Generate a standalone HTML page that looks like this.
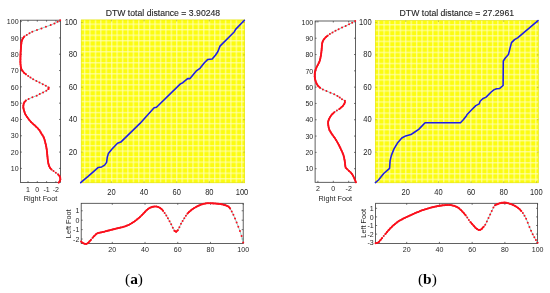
<!DOCTYPE html>
<html><head><meta charset="utf-8"><style>
html,body{margin:0;padding:0;background:#fff;}
svg{display:block;filter:blur(0.45px);}
text{font-family:'Liberation Sans', Arial, sans-serif;fill:#262626;}
</style></head><body>
<svg width="550" height="293" viewBox="0 0 550 293">
<rect width="550" height="293" fill="#fff"/>
<rect x="20.4" y="20.2" width="40.1" height="162.4" fill="#fff" stroke="#3a3a3a" stroke-width="0.8"/>
<line x1="20.4" y1="168.39" x2="21.9" y2="168.39" stroke="#3a3a3a" stroke-width="0.7"/>
<line x1="60.5" y1="168.39" x2="59.0" y2="168.39" stroke="#3a3a3a" stroke-width="0.7"/>
<text transform="translate(18.6 171.09) scale(0.93 1)" font-size="7.6" text-anchor="end">10</text>
<line x1="20.4" y1="152.08" x2="21.9" y2="152.08" stroke="#3a3a3a" stroke-width="0.7"/>
<line x1="60.5" y1="152.08" x2="59.0" y2="152.08" stroke="#3a3a3a" stroke-width="0.7"/>
<text transform="translate(18.6 154.78) scale(0.93 1)" font-size="7.6" text-anchor="end">20</text>
<line x1="20.4" y1="135.77" x2="21.9" y2="135.77" stroke="#3a3a3a" stroke-width="0.7"/>
<line x1="60.5" y1="135.77" x2="59.0" y2="135.77" stroke="#3a3a3a" stroke-width="0.7"/>
<text transform="translate(18.6 138.47) scale(0.93 1)" font-size="7.6" text-anchor="end">30</text>
<line x1="20.4" y1="119.46" x2="21.9" y2="119.46" stroke="#3a3a3a" stroke-width="0.7"/>
<line x1="60.5" y1="119.46" x2="59.0" y2="119.46" stroke="#3a3a3a" stroke-width="0.7"/>
<text transform="translate(18.6 122.16) scale(0.93 1)" font-size="7.6" text-anchor="end">40</text>
<line x1="20.4" y1="103.15" x2="21.9" y2="103.15" stroke="#3a3a3a" stroke-width="0.7"/>
<line x1="60.5" y1="103.15" x2="59.0" y2="103.15" stroke="#3a3a3a" stroke-width="0.7"/>
<text transform="translate(18.6 105.85) scale(0.93 1)" font-size="7.6" text-anchor="end">50</text>
<line x1="20.4" y1="86.84" x2="21.9" y2="86.84" stroke="#3a3a3a" stroke-width="0.7"/>
<line x1="60.5" y1="86.84" x2="59.0" y2="86.84" stroke="#3a3a3a" stroke-width="0.7"/>
<text transform="translate(18.6 89.54) scale(0.93 1)" font-size="7.6" text-anchor="end">60</text>
<line x1="20.4" y1="70.53" x2="21.9" y2="70.53" stroke="#3a3a3a" stroke-width="0.7"/>
<line x1="60.5" y1="70.53" x2="59.0" y2="70.53" stroke="#3a3a3a" stroke-width="0.7"/>
<text transform="translate(18.6 73.23) scale(0.93 1)" font-size="7.6" text-anchor="end">70</text>
<line x1="20.4" y1="54.22" x2="21.9" y2="54.22" stroke="#3a3a3a" stroke-width="0.7"/>
<line x1="60.5" y1="54.22" x2="59.0" y2="54.22" stroke="#3a3a3a" stroke-width="0.7"/>
<text transform="translate(18.6 56.92) scale(0.93 1)" font-size="7.6" text-anchor="end">80</text>
<line x1="20.4" y1="37.91" x2="21.9" y2="37.91" stroke="#3a3a3a" stroke-width="0.7"/>
<line x1="60.5" y1="37.91" x2="59.0" y2="37.91" stroke="#3a3a3a" stroke-width="0.7"/>
<text transform="translate(18.6 40.61) scale(0.93 1)" font-size="7.6" text-anchor="end">90</text>
<line x1="20.4" y1="21.6" x2="21.9" y2="21.6" stroke="#3a3a3a" stroke-width="0.7"/>
<line x1="60.5" y1="21.6" x2="59.0" y2="21.6" stroke="#3a3a3a" stroke-width="0.7"/>
<text transform="translate(18.6 24.3) scale(0.93 1)" font-size="7.6" text-anchor="end">100</text>
<line x1="28" y1="20.2" x2="28" y2="21.7" stroke="#3a3a3a" stroke-width="0.7"/>
<line x1="28" y1="182.6" x2="28" y2="181.1" stroke="#3a3a3a" stroke-width="0.7"/>
<text transform="translate(28 191.7) scale(0.93 1)" font-size="7.6" text-anchor="middle">1</text>
<line x1="37.3" y1="20.2" x2="37.3" y2="21.7" stroke="#3a3a3a" stroke-width="0.7"/>
<line x1="37.3" y1="182.6" x2="37.3" y2="181.1" stroke="#3a3a3a" stroke-width="0.7"/>
<text transform="translate(37.3 191.7) scale(0.93 1)" font-size="7.6" text-anchor="middle">0</text>
<line x1="46.6" y1="20.2" x2="46.6" y2="21.7" stroke="#3a3a3a" stroke-width="0.7"/>
<line x1="46.6" y1="182.6" x2="46.6" y2="181.1" stroke="#3a3a3a" stroke-width="0.7"/>
<text transform="translate(46.6 191.7) scale(0.93 1)" font-size="7.6" text-anchor="middle">-1</text>
<line x1="55.9" y1="20.2" x2="55.9" y2="21.7" stroke="#3a3a3a" stroke-width="0.7"/>
<line x1="55.9" y1="182.6" x2="55.9" y2="181.1" stroke="#3a3a3a" stroke-width="0.7"/>
<text transform="translate(55.9 191.7) scale(0.93 1)" font-size="7.6" text-anchor="middle">-2</text>
<text transform="translate(40.45 201) scale(0.9 1)" font-size="8.1" text-anchor="middle">Right Foot</text>
<g fill="#fa1020"><polyline points="58.72,182.6 59.79,180.96 60.35,179.32 60.18,177.68 59.5,176.04 58.17,174.4 55.84,172.76 53.51,171.12 51.48,169.48 50.02,167.84 49.19,166.2 48.66,164.56 48.27,162.92 47.99,161.27 47.77,159.63 47.59,157.99 47.43,156.35 47.27,154.71 47.1,153.07 46.93,151.43 46.74,149.79 46.5,148.15 46.2,146.51 45.84,144.87 45.46,143.23 45.06,141.59 44.62,139.95 44.1,138.31 43.41,136.67 42.39,135.03 41.31,133.39 40.39,131.75 39.38,130.11 37.94,128.47 36.24,126.83 34.51,125.19 32.68,123.55 30.93,121.91 29.48,120.26 28.28,118.62 27.12,116.98 25.91,115.34 25.04,113.7 24.51,112.06 24.01,110.42 23.53,108.78 23.33,107.14 23.37,105.5 23.67,103.86 24.35,102.22 25.81,100.58 28.6,98.94 32.39,97.3 36.7,95.66 39.76,94.02 43.04,92.38 46.34,90.74 48.45,89.1 48.61,87.46 45.81,85.82 42.78,84.18 39.5,82.54 36.39,80.89 33.14,79.25 30.47,77.61 28.17,75.97 25.91,74.33 24,72.69 22.54,71.05 21.57,69.41 21,67.77 20.72,66.13 20.54,64.49 20.42,62.85 20.4,61.21 20.42,59.57 20.44,57.93 20.48,56.29 20.52,54.65 20.59,53.01 20.69,51.37 20.81,49.73 20.94,48.09 21.07,46.45 21.2,44.81 21.37,43.17 21.6,41.53 22.11,39.88 23.05,38.24 24.3,36.6 26.73,34.96 29.49,33.32 32.29,31.68 36.97,30.04 41.45,28.4 45.95,26.76 50.69,25.12 54.42,23.48 57.66,21.84 60.15,20.2" fill="none" stroke="#78c4b8" stroke-width="0.8"/><polyline points="58.72,182.6 59.79,180.96 60.35,179.32 60.18,177.68 59.5,176.04 58.17,174.4" fill="none" stroke="#ff0808" stroke-width="1.65" stroke-linejoin="round" stroke-linecap="round"/><polyline points="51.48,169.48 50.02,167.84 49.19,166.2 48.66,164.56 48.27,162.92 47.99,161.27 47.77,159.63 47.59,157.99 47.43,156.35 47.27,154.71 47.1,153.07 46.93,151.43 46.74,149.79 46.5,148.15 46.2,146.51 45.84,144.87 45.46,143.23 45.06,141.59 44.62,139.95 44.1,138.31 43.41,136.67 42.39,135.03 41.31,133.39 40.39,131.75 39.38,130.11 37.94,128.47 36.24,126.83 34.51,125.19 32.68,123.55 30.93,121.91 29.48,120.26 28.28,118.62 27.12,116.98 25.91,115.34 25.04,113.7 24.51,112.06 24.01,110.42 23.53,108.78 23.33,107.14 23.37,105.5 23.67,103.86 24.35,102.22 25.81,100.58" fill="none" stroke="#ff0808" stroke-width="1.65" stroke-linejoin="round" stroke-linecap="round"/><polyline points="48.45,89.1 48.61,87.46" fill="none" stroke="#ff0808" stroke-width="1.65" stroke-linejoin="round" stroke-linecap="round"/><polyline points="25.91,74.33 24,72.69 22.54,71.05 21.57,69.41 21,67.77 20.72,66.13 20.54,64.49 20.42,62.85 20.4,61.21 20.42,59.57 20.44,57.93 20.48,56.29 20.52,54.65 20.59,53.01 20.69,51.37 20.81,49.73 20.94,48.09 21.07,46.45 21.2,44.81 21.37,43.17 21.6,41.53 22.11,39.88 23.05,38.24 24.3,36.6" fill="none" stroke="#ff0808" stroke-width="1.65" stroke-linejoin="round" stroke-linecap="round"/><circle cx="58.72" cy="182.6" r="1.0"/><circle cx="59.79" cy="180.96" r="1.0"/><circle cx="60.35" cy="179.32" r="1.0"/><circle cx="60.18" cy="177.68" r="1.0"/><circle cx="59.5" cy="176.04" r="1.0"/><circle cx="58.17" cy="174.4" r="1.0"/><circle cx="55.84" cy="172.76" r="1.0"/><circle cx="53.51" cy="171.12" r="1.0"/><circle cx="51.48" cy="169.48" r="1.0"/><circle cx="50.02" cy="167.84" r="1.0"/><circle cx="49.19" cy="166.2" r="1.0"/><circle cx="48.66" cy="164.56" r="1.0"/><circle cx="48.27" cy="162.92" r="1.0"/><circle cx="47.99" cy="161.27" r="1.0"/><circle cx="47.77" cy="159.63" r="1.0"/><circle cx="47.59" cy="157.99" r="1.0"/><circle cx="47.43" cy="156.35" r="1.0"/><circle cx="47.27" cy="154.71" r="1.0"/><circle cx="47.1" cy="153.07" r="1.0"/><circle cx="46.93" cy="151.43" r="1.0"/><circle cx="46.74" cy="149.79" r="1.0"/><circle cx="46.5" cy="148.15" r="1.0"/><circle cx="46.2" cy="146.51" r="1.0"/><circle cx="45.84" cy="144.87" r="1.0"/><circle cx="45.46" cy="143.23" r="1.0"/><circle cx="45.06" cy="141.59" r="1.0"/><circle cx="44.62" cy="139.95" r="1.0"/><circle cx="44.1" cy="138.31" r="1.0"/><circle cx="43.41" cy="136.67" r="1.0"/><circle cx="42.39" cy="135.03" r="1.0"/><circle cx="41.31" cy="133.39" r="1.0"/><circle cx="40.39" cy="131.75" r="1.0"/><circle cx="39.38" cy="130.11" r="1.0"/><circle cx="37.94" cy="128.47" r="1.0"/><circle cx="36.24" cy="126.83" r="1.0"/><circle cx="34.51" cy="125.19" r="1.0"/><circle cx="32.68" cy="123.55" r="1.0"/><circle cx="30.93" cy="121.91" r="1.0"/><circle cx="29.48" cy="120.26" r="1.0"/><circle cx="28.28" cy="118.62" r="1.0"/><circle cx="27.12" cy="116.98" r="1.0"/><circle cx="25.91" cy="115.34" r="1.0"/><circle cx="25.04" cy="113.7" r="1.0"/><circle cx="24.51" cy="112.06" r="1.0"/><circle cx="24.01" cy="110.42" r="1.0"/><circle cx="23.53" cy="108.78" r="1.0"/><circle cx="23.33" cy="107.14" r="1.0"/><circle cx="23.37" cy="105.5" r="1.0"/><circle cx="23.67" cy="103.86" r="1.0"/><circle cx="24.35" cy="102.22" r="1.0"/><circle cx="25.81" cy="100.58" r="1.0"/><circle cx="28.6" cy="98.94" r="1.0"/><circle cx="32.39" cy="97.3" r="1.0"/><circle cx="36.7" cy="95.66" r="1.0"/><circle cx="39.76" cy="94.02" r="1.0"/><circle cx="43.04" cy="92.38" r="1.0"/><circle cx="46.34" cy="90.74" r="1.0"/><circle cx="48.45" cy="89.1" r="1.0"/><circle cx="48.61" cy="87.46" r="1.0"/><circle cx="45.81" cy="85.82" r="1.0"/><circle cx="42.78" cy="84.18" r="1.0"/><circle cx="39.5" cy="82.54" r="1.0"/><circle cx="36.39" cy="80.89" r="1.0"/><circle cx="33.14" cy="79.25" r="1.0"/><circle cx="30.47" cy="77.61" r="1.0"/><circle cx="28.17" cy="75.97" r="1.0"/><circle cx="25.91" cy="74.33" r="1.0"/><circle cx="24" cy="72.69" r="1.0"/><circle cx="22.54" cy="71.05" r="1.0"/><circle cx="21.57" cy="69.41" r="1.0"/><circle cx="21" cy="67.77" r="1.0"/><circle cx="20.72" cy="66.13" r="1.0"/><circle cx="20.54" cy="64.49" r="1.0"/><circle cx="20.42" cy="62.85" r="1.0"/><circle cx="20.4" cy="61.21" r="1.0"/><circle cx="20.42" cy="59.57" r="1.0"/><circle cx="20.44" cy="57.93" r="1.0"/><circle cx="20.48" cy="56.29" r="1.0"/><circle cx="20.52" cy="54.65" r="1.0"/><circle cx="20.59" cy="53.01" r="1.0"/><circle cx="20.69" cy="51.37" r="1.0"/><circle cx="20.81" cy="49.73" r="1.0"/><circle cx="20.94" cy="48.09" r="1.0"/><circle cx="21.07" cy="46.45" r="1.0"/><circle cx="21.2" cy="44.81" r="1.0"/><circle cx="21.37" cy="43.17" r="1.0"/><circle cx="21.6" cy="41.53" r="1.0"/><circle cx="22.11" cy="39.88" r="1.0"/><circle cx="23.05" cy="38.24" r="1.0"/><circle cx="24.3" cy="36.6" r="1.0"/><circle cx="26.73" cy="34.96" r="1.0"/><circle cx="29.49" cy="33.32" r="1.0"/><circle cx="32.29" cy="31.68" r="1.0"/><circle cx="36.97" cy="30.04" r="1.0"/><circle cx="41.45" cy="28.4" r="1.0"/><circle cx="45.95" cy="26.76" r="1.0"/><circle cx="50.69" cy="25.12" r="1.0"/><circle cx="54.42" cy="23.48" r="1.0"/><circle cx="57.66" cy="21.84" r="1.0"/><circle cx="60.15" cy="20.2" r="1.0"/></g>
<defs><pattern id="ga" x="83.9" y="23.5" width="5.42" height="5.52" patternUnits="userSpaceOnUse"><rect width="5.42" height="5.52" fill="#fcfc10"/><rect width="5.42" height="1.35" fill="#ffffc0" opacity="0.68"/><rect width="1.35" height="5.52" fill="#ffffc0" opacity="0.68"/></pattern></defs>
<rect x="81.2" y="19.9" width="163.5" height="162.9" fill="url(#ga)" stroke="#e0e000" stroke-width="0.6"/>
<text transform="translate(77.2 154.6) scale(0.92 1)" font-size="8.2" text-anchor="end">20</text>
<text transform="translate(111.4 194.8) scale(0.92 1)" font-size="8.2" text-anchor="middle">20</text>
<text transform="translate(77.2 122.2) scale(0.92 1)" font-size="8.2" text-anchor="end">40</text>
<text transform="translate(144.05 194.8) scale(0.92 1)" font-size="8.2" text-anchor="middle">40</text>
<text transform="translate(77.2 89.8) scale(0.92 1)" font-size="8.2" text-anchor="end">60</text>
<text transform="translate(176.7 194.8) scale(0.92 1)" font-size="8.2" text-anchor="middle">60</text>
<text transform="translate(77.2 57.4) scale(0.92 1)" font-size="8.2" text-anchor="end">80</text>
<text transform="translate(209.35 194.8) scale(0.92 1)" font-size="8.2" text-anchor="middle">80</text>
<text transform="translate(77.2 25) scale(0.92 1)" font-size="8.2" text-anchor="end">100</text>
<text transform="translate(242 194.8) scale(0.92 1)" font-size="8.2" text-anchor="middle">100</text>
<line x1="111.4" y1="182.8" x2="111.4" y2="181.3" stroke="#a0a020" stroke-width="0.6"/>
<line x1="111.4" y1="19.9" x2="111.4" y2="21.4" stroke="#a0a020" stroke-width="0.6"/>
<line x1="81.2" y1="152.1" x2="82.7" y2="152.1" stroke="#a0a020" stroke-width="0.6"/>
<line x1="244.7" y1="152.1" x2="243.2" y2="152.1" stroke="#a0a020" stroke-width="0.6"/>
<line x1="144.05" y1="182.8" x2="144.05" y2="181.3" stroke="#a0a020" stroke-width="0.6"/>
<line x1="144.05" y1="19.9" x2="144.05" y2="21.4" stroke="#a0a020" stroke-width="0.6"/>
<line x1="81.2" y1="119.7" x2="82.7" y2="119.7" stroke="#a0a020" stroke-width="0.6"/>
<line x1="244.7" y1="119.7" x2="243.2" y2="119.7" stroke="#a0a020" stroke-width="0.6"/>
<line x1="176.7" y1="182.8" x2="176.7" y2="181.3" stroke="#a0a020" stroke-width="0.6"/>
<line x1="176.7" y1="19.9" x2="176.7" y2="21.4" stroke="#a0a020" stroke-width="0.6"/>
<line x1="81.2" y1="87.3" x2="82.7" y2="87.3" stroke="#a0a020" stroke-width="0.6"/>
<line x1="244.7" y1="87.3" x2="243.2" y2="87.3" stroke="#a0a020" stroke-width="0.6"/>
<line x1="209.35" y1="182.8" x2="209.35" y2="181.3" stroke="#a0a020" stroke-width="0.6"/>
<line x1="209.35" y1="19.9" x2="209.35" y2="21.4" stroke="#a0a020" stroke-width="0.6"/>
<line x1="81.2" y1="54.9" x2="82.7" y2="54.9" stroke="#a0a020" stroke-width="0.6"/>
<line x1="244.7" y1="54.9" x2="243.2" y2="54.9" stroke="#a0a020" stroke-width="0.6"/>
<line x1="242" y1="182.8" x2="242" y2="181.3" stroke="#a0a020" stroke-width="0.6"/>
<line x1="242" y1="19.9" x2="242" y2="21.4" stroke="#a0a020" stroke-width="0.6"/>
<line x1="81.2" y1="22.5" x2="82.7" y2="22.5" stroke="#a0a020" stroke-width="0.6"/>
<line x1="244.7" y1="22.5" x2="243.2" y2="22.5" stroke="#a0a020" stroke-width="0.6"/>
<polyline points="80.7,182.7 84.8,179.1 88.1,176.4 93.8,171.4 98.3,167.4 101.7,166.9 104.6,165.1 106.6,162.4 107.3,157.2 108.4,153.4 111.8,149.3 117.5,143.2 120.8,142.1 140,123.4 154.1,107.8 156.5,107.3 180.4,83.9 182.8,82.7 187.6,78.6 190,78.6 196.7,70.6 200,68.3 204.4,62.8 207.8,59.4 212.2,59 215.6,55 217.8,51.7 220,46.1 234.4,31.7 235.6,29.4 244.4,20.3" fill="none" stroke="#1e1ee8" stroke-width="1.55" stroke-linejoin="round" stroke-linecap="round"/>
<text x="162.95" y="15.6" font-size="9.7" text-anchor="middle" textLength="114.5" lengthAdjust="spacingAndGlyphs" style="stroke:#222;stroke-width:0.12">DTW total distance = 3.90248</text>
<rect x="81.2" y="203.3" width="162" height="40.1" fill="#fff" stroke="#3a3a3a" stroke-width="0.8"/>
<line x1="112.29" y1="203.3" x2="112.29" y2="204.8" stroke="#3a3a3a" stroke-width="0.7"/>
<line x1="112.29" y1="243.4" x2="112.29" y2="241.9" stroke="#3a3a3a" stroke-width="0.7"/>
<text transform="translate(112.29 252.3) scale(0.93 1)" font-size="7.6" text-anchor="middle">20</text>
<line x1="145.02" y1="203.3" x2="145.02" y2="204.8" stroke="#3a3a3a" stroke-width="0.7"/>
<line x1="145.02" y1="243.4" x2="145.02" y2="241.9" stroke="#3a3a3a" stroke-width="0.7"/>
<text transform="translate(145.02 252.3) scale(0.93 1)" font-size="7.6" text-anchor="middle">40</text>
<line x1="177.75" y1="203.3" x2="177.75" y2="204.8" stroke="#3a3a3a" stroke-width="0.7"/>
<line x1="177.75" y1="243.4" x2="177.75" y2="241.9" stroke="#3a3a3a" stroke-width="0.7"/>
<text transform="translate(177.75 252.3) scale(0.93 1)" font-size="7.6" text-anchor="middle">60</text>
<line x1="210.47" y1="203.3" x2="210.47" y2="204.8" stroke="#3a3a3a" stroke-width="0.7"/>
<line x1="210.47" y1="243.4" x2="210.47" y2="241.9" stroke="#3a3a3a" stroke-width="0.7"/>
<text transform="translate(210.47 252.3) scale(0.93 1)" font-size="7.6" text-anchor="middle">80</text>
<line x1="243.2" y1="203.3" x2="243.2" y2="204.8" stroke="#3a3a3a" stroke-width="0.7"/>
<line x1="243.2" y1="243.4" x2="243.2" y2="241.9" stroke="#3a3a3a" stroke-width="0.7"/>
<text transform="translate(243.2 252.3) scale(0.93 1)" font-size="7.6" text-anchor="middle">100</text>
<line x1="81.2" y1="210.77" x2="82.7" y2="210.77" stroke="#3a3a3a" stroke-width="0.7"/>
<line x1="243.2" y1="210.77" x2="241.7" y2="210.77" stroke="#3a3a3a" stroke-width="0.7"/>
<text transform="translate(79.4 213.47) scale(0.93 1)" font-size="7.6" text-anchor="end">1</text>
<line x1="81.2" y1="220.2" x2="82.7" y2="220.2" stroke="#3a3a3a" stroke-width="0.7"/>
<line x1="243.2" y1="220.2" x2="241.7" y2="220.2" stroke="#3a3a3a" stroke-width="0.7"/>
<text transform="translate(79.4 222.9) scale(0.93 1)" font-size="7.6" text-anchor="end">0</text>
<line x1="81.2" y1="229.63" x2="82.7" y2="229.63" stroke="#3a3a3a" stroke-width="0.7"/>
<line x1="243.2" y1="229.63" x2="241.7" y2="229.63" stroke="#3a3a3a" stroke-width="0.7"/>
<text transform="translate(79.4 232.33) scale(0.93 1)" font-size="7.6" text-anchor="end">-1</text>
<line x1="81.2" y1="239.06" x2="82.7" y2="239.06" stroke="#3a3a3a" stroke-width="0.7"/>
<line x1="243.2" y1="239.06" x2="241.7" y2="239.06" stroke="#3a3a3a" stroke-width="0.7"/>
<text transform="translate(79.4 241.76) scale(0.93 1)" font-size="7.6" text-anchor="end">-2</text>
<text transform="translate(71.2 223.8) rotate(-90) scale(0.9 1)" font-size="8.1" text-anchor="middle">Left Foot</text>
<g fill="#fa1020"><polyline points="81.2,241.6 82.84,242.93 84.47,243.76 86.11,243.91 87.75,243.16 89.38,241.62 91.02,239.74 92.65,237.69 94.29,235.92 95.93,234.36 97.56,233.18 99.2,232.69 100.84,232.42 102.47,232.09 104.11,231.69 105.75,231.27 107.38,230.84 109.02,230.42 110.65,229.99 112.29,229.58 113.93,229.17 115.56,228.78 117.2,228.37 118.84,227.98 120.47,227.6 122.11,227.2 123.75,226.75 125.38,226.22 127.02,225.61 128.65,224.9 130.29,224.07 131.93,223.12 133.56,222.05 135.2,220.87 136.84,219.62 138.47,218.28 140.11,216.84 141.75,215.26 143.38,213.62 145.02,211.86 146.65,210.13 148.29,208.82 149.93,207.81 151.56,207.13 153.2,206.66 154.84,206.53 156.47,206.54 158.11,207 159.75,207.66 161.38,208.91 163.02,210.76 164.65,212.89 166.29,215.48 167.93,218.37 169.56,221.27 171.2,224.29 172.84,227.8 174.47,230.7 176.11,231.79 177.75,230.36 179.38,227.27 181.02,223.78 182.65,220.95 184.29,218.25 185.93,215.65 187.56,213.47 189.2,211.84 190.84,210.43 192.47,209.2 194.11,208.11 195.75,207.14 197.38,206.25 199.02,205.42 200.65,204.73 202.29,204.22 203.93,203.8 205.56,203.44 207.2,203.23 208.84,203.21 210.47,203.24 212.11,203.31 213.75,203.39 215.38,203.49 217.02,203.63 218.65,203.82 220.29,204.04 221.93,204.32 223.56,204.69 225.2,205.14 226.84,205.72 228.47,206.61 230.11,208.41 231.75,211.51 233.38,214.83 235.02,218.54 236.65,222.54 238.29,226.74 239.93,230.89 241.56,235.91 243.2,242.5" fill="none" stroke="#78c4b8" stroke-width="0.8"/><polyline points="81.2,241.6 82.84,242.93 84.47,243.76 86.11,243.91 87.75,243.16 89.38,241.62 91.02,239.74" fill="none" stroke="#ff0808" stroke-width="1.65" stroke-linejoin="round" stroke-linecap="round"/><polyline points="92.65,237.69 94.29,235.92 95.93,234.36 97.56,233.18 99.2,232.69 100.84,232.42 102.47,232.09 104.11,231.69 105.75,231.27 107.38,230.84 109.02,230.42 110.65,229.99 112.29,229.58 113.93,229.17 115.56,228.78 117.2,228.37 118.84,227.98 120.47,227.6 122.11,227.2 123.75,226.75 125.38,226.22 127.02,225.61 128.65,224.9 130.29,224.07 131.93,223.12 133.56,222.05 135.2,220.87 136.84,219.62 138.47,218.28 140.11,216.84 141.75,215.26 143.38,213.62 145.02,211.86 146.65,210.13 148.29,208.82 149.93,207.81 151.56,207.13 153.2,206.66 154.84,206.53 156.47,206.54 158.11,207 159.75,207.66 161.38,208.91 163.02,210.76" fill="none" stroke="#ff0808" stroke-width="1.65" stroke-linejoin="round" stroke-linecap="round"/><polyline points="174.47,230.7 176.11,231.79 177.75,230.36" fill="none" stroke="#ff0808" stroke-width="1.65" stroke-linejoin="round" stroke-linecap="round"/><polyline points="187.56,213.47 189.2,211.84 190.84,210.43 192.47,209.2 194.11,208.11 195.75,207.14 197.38,206.25 199.02,205.42 200.65,204.73 202.29,204.22 203.93,203.8 205.56,203.44 207.2,203.23 208.84,203.21 210.47,203.24 212.11,203.31 213.75,203.39 215.38,203.49 217.02,203.63 218.65,203.82 220.29,204.04 221.93,204.32 223.56,204.69 225.2,205.14 226.84,205.72 228.47,206.61 230.11,208.41" fill="none" stroke="#ff0808" stroke-width="1.65" stroke-linejoin="round" stroke-linecap="round"/><circle cx="81.2" cy="241.6" r="1.0"/><circle cx="82.84" cy="242.93" r="1.0"/><circle cx="84.47" cy="243.76" r="1.0"/><circle cx="86.11" cy="243.91" r="1.0"/><circle cx="87.75" cy="243.16" r="1.0"/><circle cx="89.38" cy="241.62" r="1.0"/><circle cx="91.02" cy="239.74" r="1.0"/><circle cx="92.65" cy="237.69" r="1.0"/><circle cx="94.29" cy="235.92" r="1.0"/><circle cx="95.93" cy="234.36" r="1.0"/><circle cx="97.56" cy="233.18" r="1.0"/><circle cx="99.2" cy="232.69" r="1.0"/><circle cx="100.84" cy="232.42" r="1.0"/><circle cx="102.47" cy="232.09" r="1.0"/><circle cx="104.11" cy="231.69" r="1.0"/><circle cx="105.75" cy="231.27" r="1.0"/><circle cx="107.38" cy="230.84" r="1.0"/><circle cx="109.02" cy="230.42" r="1.0"/><circle cx="110.65" cy="229.99" r="1.0"/><circle cx="112.29" cy="229.58" r="1.0"/><circle cx="113.93" cy="229.17" r="1.0"/><circle cx="115.56" cy="228.78" r="1.0"/><circle cx="117.2" cy="228.37" r="1.0"/><circle cx="118.84" cy="227.98" r="1.0"/><circle cx="120.47" cy="227.6" r="1.0"/><circle cx="122.11" cy="227.2" r="1.0"/><circle cx="123.75" cy="226.75" r="1.0"/><circle cx="125.38" cy="226.22" r="1.0"/><circle cx="127.02" cy="225.61" r="1.0"/><circle cx="128.65" cy="224.9" r="1.0"/><circle cx="130.29" cy="224.07" r="1.0"/><circle cx="131.93" cy="223.12" r="1.0"/><circle cx="133.56" cy="222.05" r="1.0"/><circle cx="135.2" cy="220.87" r="1.0"/><circle cx="136.84" cy="219.62" r="1.0"/><circle cx="138.47" cy="218.28" r="1.0"/><circle cx="140.11" cy="216.84" r="1.0"/><circle cx="141.75" cy="215.26" r="1.0"/><circle cx="143.38" cy="213.62" r="1.0"/><circle cx="145.02" cy="211.86" r="1.0"/><circle cx="146.65" cy="210.13" r="1.0"/><circle cx="148.29" cy="208.82" r="1.0"/><circle cx="149.93" cy="207.81" r="1.0"/><circle cx="151.56" cy="207.13" r="1.0"/><circle cx="153.2" cy="206.66" r="1.0"/><circle cx="154.84" cy="206.53" r="1.0"/><circle cx="156.47" cy="206.54" r="1.0"/><circle cx="158.11" cy="207" r="1.0"/><circle cx="159.75" cy="207.66" r="1.0"/><circle cx="161.38" cy="208.91" r="1.0"/><circle cx="163.02" cy="210.76" r="1.0"/><circle cx="164.65" cy="212.89" r="1.0"/><circle cx="166.29" cy="215.48" r="1.0"/><circle cx="167.93" cy="218.37" r="1.0"/><circle cx="169.56" cy="221.27" r="1.0"/><circle cx="171.2" cy="224.29" r="1.0"/><circle cx="172.84" cy="227.8" r="1.0"/><circle cx="174.47" cy="230.7" r="1.0"/><circle cx="176.11" cy="231.79" r="1.0"/><circle cx="177.75" cy="230.36" r="1.0"/><circle cx="179.38" cy="227.27" r="1.0"/><circle cx="181.02" cy="223.78" r="1.0"/><circle cx="182.65" cy="220.95" r="1.0"/><circle cx="184.29" cy="218.25" r="1.0"/><circle cx="185.93" cy="215.65" r="1.0"/><circle cx="187.56" cy="213.47" r="1.0"/><circle cx="189.2" cy="211.84" r="1.0"/><circle cx="190.84" cy="210.43" r="1.0"/><circle cx="192.47" cy="209.2" r="1.0"/><circle cx="194.11" cy="208.11" r="1.0"/><circle cx="195.75" cy="207.14" r="1.0"/><circle cx="197.38" cy="206.25" r="1.0"/><circle cx="199.02" cy="205.42" r="1.0"/><circle cx="200.65" cy="204.73" r="1.0"/><circle cx="202.29" cy="204.22" r="1.0"/><circle cx="203.93" cy="203.8" r="1.0"/><circle cx="205.56" cy="203.44" r="1.0"/><circle cx="207.2" cy="203.23" r="1.0"/><circle cx="208.84" cy="203.21" r="1.0"/><circle cx="210.47" cy="203.24" r="1.0"/><circle cx="212.11" cy="203.31" r="1.0"/><circle cx="213.75" cy="203.39" r="1.0"/><circle cx="215.38" cy="203.49" r="1.0"/><circle cx="217.02" cy="203.63" r="1.0"/><circle cx="218.65" cy="203.82" r="1.0"/><circle cx="220.29" cy="204.04" r="1.0"/><circle cx="221.93" cy="204.32" r="1.0"/><circle cx="223.56" cy="204.69" r="1.0"/><circle cx="225.2" cy="205.14" r="1.0"/><circle cx="226.84" cy="205.72" r="1.0"/><circle cx="228.47" cy="206.61" r="1.0"/><circle cx="230.11" cy="208.41" r="1.0"/><circle cx="231.75" cy="211.51" r="1.0"/><circle cx="233.38" cy="214.83" r="1.0"/><circle cx="235.02" cy="218.54" r="1.0"/><circle cx="236.65" cy="222.54" r="1.0"/><circle cx="238.29" cy="226.74" r="1.0"/><circle cx="239.93" cy="230.89" r="1.0"/><circle cx="241.56" cy="235.91" r="1.0"/><circle cx="243.2" cy="242.5" r="1.0"/></g>
<text x="134" y="284.4" style="font-family:'Liberation Serif',serif;font-size:15.4px;fill:#000" text-anchor="middle">(<tspan font-weight="bold">a</tspan>)</text>
<rect x="315.1" y="21.0" width="40.4" height="161.3" fill="#fff" stroke="#3a3a3a" stroke-width="0.8"/>
<line x1="315.1" y1="168.69" x2="316.6" y2="168.69" stroke="#3a3a3a" stroke-width="0.7"/>
<line x1="355.5" y1="168.69" x2="354.0" y2="168.69" stroke="#3a3a3a" stroke-width="0.7"/>
<text transform="translate(313.3 171.39) scale(0.93 1)" font-size="7.6" text-anchor="end">10</text>
<line x1="315.1" y1="152.38" x2="316.6" y2="152.38" stroke="#3a3a3a" stroke-width="0.7"/>
<line x1="355.5" y1="152.38" x2="354.0" y2="152.38" stroke="#3a3a3a" stroke-width="0.7"/>
<text transform="translate(313.3 155.08) scale(0.93 1)" font-size="7.6" text-anchor="end">20</text>
<line x1="315.1" y1="136.07" x2="316.6" y2="136.07" stroke="#3a3a3a" stroke-width="0.7"/>
<line x1="355.5" y1="136.07" x2="354.0" y2="136.07" stroke="#3a3a3a" stroke-width="0.7"/>
<text transform="translate(313.3 138.77) scale(0.93 1)" font-size="7.6" text-anchor="end">30</text>
<line x1="315.1" y1="119.76" x2="316.6" y2="119.76" stroke="#3a3a3a" stroke-width="0.7"/>
<line x1="355.5" y1="119.76" x2="354.0" y2="119.76" stroke="#3a3a3a" stroke-width="0.7"/>
<text transform="translate(313.3 122.46) scale(0.93 1)" font-size="7.6" text-anchor="end">40</text>
<line x1="315.1" y1="103.45" x2="316.6" y2="103.45" stroke="#3a3a3a" stroke-width="0.7"/>
<line x1="355.5" y1="103.45" x2="354.0" y2="103.45" stroke="#3a3a3a" stroke-width="0.7"/>
<text transform="translate(313.3 106.15) scale(0.93 1)" font-size="7.6" text-anchor="end">50</text>
<line x1="315.1" y1="87.14" x2="316.6" y2="87.14" stroke="#3a3a3a" stroke-width="0.7"/>
<line x1="355.5" y1="87.14" x2="354.0" y2="87.14" stroke="#3a3a3a" stroke-width="0.7"/>
<text transform="translate(313.3 89.84) scale(0.93 1)" font-size="7.6" text-anchor="end">60</text>
<line x1="315.1" y1="70.83" x2="316.6" y2="70.83" stroke="#3a3a3a" stroke-width="0.7"/>
<line x1="355.5" y1="70.83" x2="354.0" y2="70.83" stroke="#3a3a3a" stroke-width="0.7"/>
<text transform="translate(313.3 73.53) scale(0.93 1)" font-size="7.6" text-anchor="end">70</text>
<line x1="315.1" y1="54.52" x2="316.6" y2="54.52" stroke="#3a3a3a" stroke-width="0.7"/>
<line x1="355.5" y1="54.52" x2="354.0" y2="54.52" stroke="#3a3a3a" stroke-width="0.7"/>
<text transform="translate(313.3 57.22) scale(0.93 1)" font-size="7.6" text-anchor="end">80</text>
<line x1="315.1" y1="38.21" x2="316.6" y2="38.21" stroke="#3a3a3a" stroke-width="0.7"/>
<line x1="355.5" y1="38.21" x2="354.0" y2="38.21" stroke="#3a3a3a" stroke-width="0.7"/>
<text transform="translate(313.3 40.91) scale(0.93 1)" font-size="7.6" text-anchor="end">90</text>
<line x1="315.1" y1="21.9" x2="316.6" y2="21.9" stroke="#3a3a3a" stroke-width="0.7"/>
<line x1="355.5" y1="21.9" x2="354.0" y2="21.9" stroke="#3a3a3a" stroke-width="0.7"/>
<text transform="translate(313.3 24.6) scale(0.93 1)" font-size="7.6" text-anchor="end">100</text>
<line x1="317.9" y1="21.0" x2="317.9" y2="22.5" stroke="#3a3a3a" stroke-width="0.7"/>
<line x1="317.9" y1="182.3" x2="317.9" y2="180.8" stroke="#3a3a3a" stroke-width="0.7"/>
<text transform="translate(317.9 191.2) scale(0.93 1)" font-size="7.6" text-anchor="middle">2</text>
<line x1="333.3" y1="21.0" x2="333.3" y2="22.5" stroke="#3a3a3a" stroke-width="0.7"/>
<line x1="333.3" y1="182.3" x2="333.3" y2="180.8" stroke="#3a3a3a" stroke-width="0.7"/>
<text transform="translate(333.3 191.2) scale(0.93 1)" font-size="7.6" text-anchor="middle">0</text>
<line x1="348.7" y1="21.0" x2="348.7" y2="22.5" stroke="#3a3a3a" stroke-width="0.7"/>
<line x1="348.7" y1="182.3" x2="348.7" y2="180.8" stroke="#3a3a3a" stroke-width="0.7"/>
<text transform="translate(348.7 191.2) scale(0.93 1)" font-size="7.6" text-anchor="middle">-2</text>
<text transform="translate(335.3 200.8) scale(0.9 1)" font-size="8.1" text-anchor="middle">Right Foot</text>
<g fill="#fa1020"><polyline points="355.87,182.3 355.29,180.67 354.62,179.04 353.88,177.41 353.08,175.78 352.11,174.15 350.71,172.52 349,170.89 347.28,169.27 345.68,167.64 345.3,166.01 345.15,164.38 344.96,162.75 344.72,161.12 344.45,159.49 344.14,157.86 343.76,156.23 343.25,154.6 342.61,152.97 341.89,151.34 341.13,149.71 340.37,148.08 339.58,146.46 338.75,144.83 337.88,143.2 336.96,141.57 336,139.94 334.96,138.31 333.78,136.68 332.59,135.05 331.51,133.42 330.47,131.79 329.51,130.16 328.94,128.53 328.59,126.9 328.31,125.27 328.14,123.65 328.13,122.02 328.53,120.39 329.19,118.76 330.01,117.13 331.16,115.5 332.56,113.87 334.35,112.24 336.85,110.61 339.41,108.98 341.37,107.35 343.02,105.72 344.24,104.09 344.81,102.46 344.83,100.84 342,99.21 339.74,97.58 337.41,95.95 334.19,94.32 330.43,92.69 326.45,91.06 322.87,89.43 320.13,87.8 318.33,86.17 317.16,84.54 316.32,82.91 315.67,81.28 315.22,79.65 314.85,78.03 314.7,76.4 314.73,74.77 314.79,73.14 315.05,71.51 315.54,69.88 316.16,68.25 316.95,66.62 317.75,64.99 318.63,63.36 319.41,61.73 319.92,60.1 320.32,58.47 320.65,56.84 320.93,55.22 321.18,53.59 321.39,51.96 321.56,50.33 321.69,48.7 321.8,47.07 321.96,45.44 322.15,43.81 322.46,42.18 323.18,40.55 324.25,38.92 325.71,37.29 327.59,35.66 329.87,34.03 332.5,32.41 335.48,30.78 338.65,29.15 342.04,27.52 345.67,25.89 349.04,24.26 352.21,22.63 355.2,21" fill="none" stroke="#78c4b8" stroke-width="0.8"/><polyline points="355.87,182.3 355.29,180.67 354.62,179.04 353.88,177.41 353.08,175.78 352.11,174.15 350.71,172.52 349,170.89 347.28,169.27 345.68,167.64 345.3,166.01 345.15,164.38 344.96,162.75 344.72,161.12 344.45,159.49 344.14,157.86 343.76,156.23 343.25,154.6 342.61,152.97 341.89,151.34 341.13,149.71 340.37,148.08 339.58,146.46 338.75,144.83 337.88,143.2 336.96,141.57 336,139.94 334.96,138.31 333.78,136.68 332.59,135.05 331.51,133.42 330.47,131.79 329.51,130.16 328.94,128.53 328.59,126.9 328.31,125.27 328.14,123.65 328.13,122.02 328.53,120.39 329.19,118.76 330.01,117.13 331.16,115.5 332.56,113.87 334.35,112.24" fill="none" stroke="#ff0808" stroke-width="1.65" stroke-linejoin="round" stroke-linecap="round"/><polyline points="339.41,108.98 341.37,107.35 343.02,105.72 344.24,104.09 344.81,102.46 344.83,100.84" fill="none" stroke="#ff0808" stroke-width="1.65" stroke-linejoin="round" stroke-linecap="round"/><polyline points="320.13,87.8 318.33,86.17 317.16,84.54 316.32,82.91 315.67,81.28 315.22,79.65 314.85,78.03 314.7,76.4 314.73,74.77 314.79,73.14 315.05,71.51 315.54,69.88 316.16,68.25 316.95,66.62 317.75,64.99 318.63,63.36 319.41,61.73 319.92,60.1 320.32,58.47 320.65,56.84 320.93,55.22 321.18,53.59 321.39,51.96 321.56,50.33 321.69,48.7 321.8,47.07 321.96,45.44 322.15,43.81 322.46,42.18 323.18,40.55 324.25,38.92 325.71,37.29 327.59,35.66" fill="none" stroke="#ff0808" stroke-width="1.65" stroke-linejoin="round" stroke-linecap="round"/><circle cx="355.87" cy="182.3" r="1.0"/><circle cx="355.29" cy="180.67" r="1.0"/><circle cx="354.62" cy="179.04" r="1.0"/><circle cx="353.88" cy="177.41" r="1.0"/><circle cx="353.08" cy="175.78" r="1.0"/><circle cx="352.11" cy="174.15" r="1.0"/><circle cx="350.71" cy="172.52" r="1.0"/><circle cx="349" cy="170.89" r="1.0"/><circle cx="347.28" cy="169.27" r="1.0"/><circle cx="345.68" cy="167.64" r="1.0"/><circle cx="345.3" cy="166.01" r="1.0"/><circle cx="345.15" cy="164.38" r="1.0"/><circle cx="344.96" cy="162.75" r="1.0"/><circle cx="344.72" cy="161.12" r="1.0"/><circle cx="344.45" cy="159.49" r="1.0"/><circle cx="344.14" cy="157.86" r="1.0"/><circle cx="343.76" cy="156.23" r="1.0"/><circle cx="343.25" cy="154.6" r="1.0"/><circle cx="342.61" cy="152.97" r="1.0"/><circle cx="341.89" cy="151.34" r="1.0"/><circle cx="341.13" cy="149.71" r="1.0"/><circle cx="340.37" cy="148.08" r="1.0"/><circle cx="339.58" cy="146.46" r="1.0"/><circle cx="338.75" cy="144.83" r="1.0"/><circle cx="337.88" cy="143.2" r="1.0"/><circle cx="336.96" cy="141.57" r="1.0"/><circle cx="336" cy="139.94" r="1.0"/><circle cx="334.96" cy="138.31" r="1.0"/><circle cx="333.78" cy="136.68" r="1.0"/><circle cx="332.59" cy="135.05" r="1.0"/><circle cx="331.51" cy="133.42" r="1.0"/><circle cx="330.47" cy="131.79" r="1.0"/><circle cx="329.51" cy="130.16" r="1.0"/><circle cx="328.94" cy="128.53" r="1.0"/><circle cx="328.59" cy="126.9" r="1.0"/><circle cx="328.31" cy="125.27" r="1.0"/><circle cx="328.14" cy="123.65" r="1.0"/><circle cx="328.13" cy="122.02" r="1.0"/><circle cx="328.53" cy="120.39" r="1.0"/><circle cx="329.19" cy="118.76" r="1.0"/><circle cx="330.01" cy="117.13" r="1.0"/><circle cx="331.16" cy="115.5" r="1.0"/><circle cx="332.56" cy="113.87" r="1.0"/><circle cx="334.35" cy="112.24" r="1.0"/><circle cx="336.85" cy="110.61" r="1.0"/><circle cx="339.41" cy="108.98" r="1.0"/><circle cx="341.37" cy="107.35" r="1.0"/><circle cx="343.02" cy="105.72" r="1.0"/><circle cx="344.24" cy="104.09" r="1.0"/><circle cx="344.81" cy="102.46" r="1.0"/><circle cx="344.83" cy="100.84" r="1.0"/><circle cx="342" cy="99.21" r="1.0"/><circle cx="339.74" cy="97.58" r="1.0"/><circle cx="337.41" cy="95.95" r="1.0"/><circle cx="334.19" cy="94.32" r="1.0"/><circle cx="330.43" cy="92.69" r="1.0"/><circle cx="326.45" cy="91.06" r="1.0"/><circle cx="322.87" cy="89.43" r="1.0"/><circle cx="320.13" cy="87.8" r="1.0"/><circle cx="318.33" cy="86.17" r="1.0"/><circle cx="317.16" cy="84.54" r="1.0"/><circle cx="316.32" cy="82.91" r="1.0"/><circle cx="315.67" cy="81.28" r="1.0"/><circle cx="315.22" cy="79.65" r="1.0"/><circle cx="314.85" cy="78.03" r="1.0"/><circle cx="314.7" cy="76.4" r="1.0"/><circle cx="314.73" cy="74.77" r="1.0"/><circle cx="314.79" cy="73.14" r="1.0"/><circle cx="315.05" cy="71.51" r="1.0"/><circle cx="315.54" cy="69.88" r="1.0"/><circle cx="316.16" cy="68.25" r="1.0"/><circle cx="316.95" cy="66.62" r="1.0"/><circle cx="317.75" cy="64.99" r="1.0"/><circle cx="318.63" cy="63.36" r="1.0"/><circle cx="319.41" cy="61.73" r="1.0"/><circle cx="319.92" cy="60.1" r="1.0"/><circle cx="320.32" cy="58.47" r="1.0"/><circle cx="320.65" cy="56.84" r="1.0"/><circle cx="320.93" cy="55.22" r="1.0"/><circle cx="321.18" cy="53.59" r="1.0"/><circle cx="321.39" cy="51.96" r="1.0"/><circle cx="321.56" cy="50.33" r="1.0"/><circle cx="321.69" cy="48.7" r="1.0"/><circle cx="321.8" cy="47.07" r="1.0"/><circle cx="321.96" cy="45.44" r="1.0"/><circle cx="322.15" cy="43.81" r="1.0"/><circle cx="322.46" cy="42.18" r="1.0"/><circle cx="323.18" cy="40.55" r="1.0"/><circle cx="324.25" cy="38.92" r="1.0"/><circle cx="325.71" cy="37.29" r="1.0"/><circle cx="327.59" cy="35.66" r="1.0"/><circle cx="329.87" cy="34.03" r="1.0"/><circle cx="332.5" cy="32.41" r="1.0"/><circle cx="335.48" cy="30.78" r="1.0"/><circle cx="338.65" cy="29.15" r="1.0"/><circle cx="342.04" cy="27.52" r="1.0"/><circle cx="345.67" cy="25.89" r="1.0"/><circle cx="349.04" cy="24.26" r="1.0"/><circle cx="352.21" cy="22.63" r="1.0"/><circle cx="355.2" cy="21" r="1.0"/></g>
<defs><pattern id="gb" x="378" y="24.1" width="5.42" height="5.52" patternUnits="userSpaceOnUse"><rect width="5.42" height="5.52" fill="#fcfc10"/><rect width="5.42" height="1.35" fill="#ffffc0" opacity="0.68"/><rect width="1.35" height="5.52" fill="#ffffc0" opacity="0.68"/></pattern></defs>
<rect x="375.3" y="20.5" width="163.1" height="162.3" fill="url(#gb)" stroke="#e0e000" stroke-width="0.6"/>
<text transform="translate(371.6 154.6) scale(0.92 1)" font-size="8.2" text-anchor="end">20</text>
<text transform="translate(405.8 194.8) scale(0.92 1)" font-size="8.2" text-anchor="middle">20</text>
<text transform="translate(371.6 122.2) scale(0.92 1)" font-size="8.2" text-anchor="end">40</text>
<text transform="translate(438.45 194.8) scale(0.92 1)" font-size="8.2" text-anchor="middle">40</text>
<text transform="translate(371.6 89.8) scale(0.92 1)" font-size="8.2" text-anchor="end">60</text>
<text transform="translate(471.1 194.8) scale(0.92 1)" font-size="8.2" text-anchor="middle">60</text>
<text transform="translate(371.6 57.4) scale(0.92 1)" font-size="8.2" text-anchor="end">80</text>
<text transform="translate(503.75 194.8) scale(0.92 1)" font-size="8.2" text-anchor="middle">80</text>
<text transform="translate(371.6 25) scale(0.92 1)" font-size="8.2" text-anchor="end">100</text>
<text transform="translate(536.4 194.8) scale(0.92 1)" font-size="8.2" text-anchor="middle">100</text>
<line x1="405.8" y1="182.8" x2="405.8" y2="181.3" stroke="#a0a020" stroke-width="0.6"/>
<line x1="405.8" y1="20.5" x2="405.8" y2="22" stroke="#a0a020" stroke-width="0.6"/>
<line x1="375.3" y1="152.1" x2="376.8" y2="152.1" stroke="#a0a020" stroke-width="0.6"/>
<line x1="538.4" y1="152.1" x2="536.9" y2="152.1" stroke="#a0a020" stroke-width="0.6"/>
<line x1="438.45" y1="182.8" x2="438.45" y2="181.3" stroke="#a0a020" stroke-width="0.6"/>
<line x1="438.45" y1="20.5" x2="438.45" y2="22" stroke="#a0a020" stroke-width="0.6"/>
<line x1="375.3" y1="119.7" x2="376.8" y2="119.7" stroke="#a0a020" stroke-width="0.6"/>
<line x1="538.4" y1="119.7" x2="536.9" y2="119.7" stroke="#a0a020" stroke-width="0.6"/>
<line x1="471.1" y1="182.8" x2="471.1" y2="181.3" stroke="#a0a020" stroke-width="0.6"/>
<line x1="471.1" y1="20.5" x2="471.1" y2="22" stroke="#a0a020" stroke-width="0.6"/>
<line x1="375.3" y1="87.3" x2="376.8" y2="87.3" stroke="#a0a020" stroke-width="0.6"/>
<line x1="538.4" y1="87.3" x2="536.9" y2="87.3" stroke="#a0a020" stroke-width="0.6"/>
<line x1="503.75" y1="182.8" x2="503.75" y2="181.3" stroke="#a0a020" stroke-width="0.6"/>
<line x1="503.75" y1="20.5" x2="503.75" y2="22" stroke="#a0a020" stroke-width="0.6"/>
<line x1="375.3" y1="54.9" x2="376.8" y2="54.9" stroke="#a0a020" stroke-width="0.6"/>
<line x1="538.4" y1="54.9" x2="536.9" y2="54.9" stroke="#a0a020" stroke-width="0.6"/>
<line x1="536.4" y1="182.8" x2="536.4" y2="181.3" stroke="#a0a020" stroke-width="0.6"/>
<line x1="536.4" y1="20.5" x2="536.4" y2="22" stroke="#a0a020" stroke-width="0.6"/>
<line x1="375.3" y1="22.5" x2="376.8" y2="22.5" stroke="#a0a020" stroke-width="0.6"/>
<line x1="538.4" y1="22.5" x2="536.9" y2="22.5" stroke="#a0a020" stroke-width="0.6"/>
<polyline points="375.4,182.6 378.5,180 383.7,173.5 389.6,168.3 390.1,160.6 391.4,155.4 394,148.9 397.9,142.4 401.8,138 405.7,135.9 410.9,134.6 414.8,132 418.7,129.4 425.1,122.7 460.5,122.7 463.5,119.5 466.5,115.8 466.9,114.8 470.7,110.7 475.8,105.6 479.2,103.9 480.1,101.3 482.7,98.8 486.1,97.1 491.2,92 493.8,89.9 496.5,88.7 499.7,88.4 503.1,85.5 503.3,61 505.3,58 508.4,54.6 509.9,48.8 511.5,42.6 514.5,39.6 517.6,37.8 538,20.6" fill="none" stroke="#1e1ee8" stroke-width="1.55" stroke-linejoin="round" stroke-linecap="round"/>
<text x="456.85" y="15.6" font-size="9.7" text-anchor="middle" textLength="114.5" lengthAdjust="spacingAndGlyphs" style="stroke:#222;stroke-width:0.12">DTW total distance = 27.2961</text>
<rect x="375.6" y="203.3" width="162" height="40.1" fill="#fff" stroke="#3a3a3a" stroke-width="0.8"/>
<line x1="406.69" y1="203.3" x2="406.69" y2="204.8" stroke="#3a3a3a" stroke-width="0.7"/>
<line x1="406.69" y1="243.4" x2="406.69" y2="241.9" stroke="#3a3a3a" stroke-width="0.7"/>
<text transform="translate(406.69 252.3) scale(0.93 1)" font-size="7.6" text-anchor="middle">20</text>
<line x1="439.42" y1="203.3" x2="439.42" y2="204.8" stroke="#3a3a3a" stroke-width="0.7"/>
<line x1="439.42" y1="243.4" x2="439.42" y2="241.9" stroke="#3a3a3a" stroke-width="0.7"/>
<text transform="translate(439.42 252.3) scale(0.93 1)" font-size="7.6" text-anchor="middle">40</text>
<line x1="472.15" y1="203.3" x2="472.15" y2="204.8" stroke="#3a3a3a" stroke-width="0.7"/>
<line x1="472.15" y1="243.4" x2="472.15" y2="241.9" stroke="#3a3a3a" stroke-width="0.7"/>
<text transform="translate(472.15 252.3) scale(0.93 1)" font-size="7.6" text-anchor="middle">60</text>
<line x1="504.87" y1="203.3" x2="504.87" y2="204.8" stroke="#3a3a3a" stroke-width="0.7"/>
<line x1="504.87" y1="243.4" x2="504.87" y2="241.9" stroke="#3a3a3a" stroke-width="0.7"/>
<text transform="translate(504.87 252.3) scale(0.93 1)" font-size="7.6" text-anchor="middle">80</text>
<line x1="537.6" y1="203.3" x2="537.6" y2="204.8" stroke="#3a3a3a" stroke-width="0.7"/>
<line x1="537.6" y1="243.4" x2="537.6" y2="241.9" stroke="#3a3a3a" stroke-width="0.7"/>
<text transform="translate(537.6 252.3) scale(0.93 1)" font-size="7.6" text-anchor="middle">100</text>
<line x1="375.6" y1="208.3" x2="377.1" y2="208.3" stroke="#3a3a3a" stroke-width="0.7"/>
<line x1="537.6" y1="208.3" x2="536.1" y2="208.3" stroke="#3a3a3a" stroke-width="0.7"/>
<text transform="translate(373.8 211) scale(0.93 1)" font-size="7.6" text-anchor="end">1</text>
<line x1="375.6" y1="216.9" x2="377.1" y2="216.9" stroke="#3a3a3a" stroke-width="0.7"/>
<line x1="537.6" y1="216.9" x2="536.1" y2="216.9" stroke="#3a3a3a" stroke-width="0.7"/>
<text transform="translate(373.8 219.6) scale(0.93 1)" font-size="7.6" text-anchor="end">0</text>
<line x1="375.6" y1="225.5" x2="377.1" y2="225.5" stroke="#3a3a3a" stroke-width="0.7"/>
<line x1="537.6" y1="225.5" x2="536.1" y2="225.5" stroke="#3a3a3a" stroke-width="0.7"/>
<text transform="translate(373.8 228.2) scale(0.93 1)" font-size="7.6" text-anchor="end">-1</text>
<line x1="375.6" y1="234.1" x2="377.1" y2="234.1" stroke="#3a3a3a" stroke-width="0.7"/>
<line x1="537.6" y1="234.1" x2="536.1" y2="234.1" stroke="#3a3a3a" stroke-width="0.7"/>
<text transform="translate(373.8 236.8) scale(0.93 1)" font-size="7.6" text-anchor="end">-2</text>
<line x1="375.6" y1="242.7" x2="377.1" y2="242.7" stroke="#3a3a3a" stroke-width="0.7"/>
<line x1="537.6" y1="242.7" x2="536.1" y2="242.7" stroke="#3a3a3a" stroke-width="0.7"/>
<text transform="translate(373.8 245.4) scale(0.93 1)" font-size="7.6" text-anchor="end">-3</text>
<text transform="translate(366.3 223.3) rotate(-90) scale(0.9 1)" font-size="8.1" text-anchor="middle">Left Foot</text>
<g fill="#fa1020"><polyline points="375.6,243.2 377.24,242.89 378.87,241.92 380.51,239.97 382.15,238.05 383.78,236.02 385.42,233.99 387.05,232.01 388.69,230.1 390.33,228.34 391.96,226.72 393.6,225.21 395.24,223.77 396.87,222.45 398.51,221.33 400.15,220.36 401.78,219.45 403.42,218.58 405.05,217.77 406.69,216.99 408.33,216.24 409.96,215.52 411.6,214.8 413.24,214.08 414.87,213.35 416.51,212.61 418.15,211.89 419.78,211.21 421.42,210.58 423.05,210.01 424.69,209.46 426.33,208.95 427.96,208.46 429.6,208.01 431.24,207.56 432.87,207.13 434.51,206.74 436.15,206.4 437.78,206.11 439.42,205.83 441.05,205.58 442.69,205.37 444.33,205.22 445.96,205.12 447.6,205.04 449.24,205 450.87,205.12 452.51,205.44 454.15,205.84 455.78,206.43 457.42,207.26 459.05,208.33 460.69,209.77 462.33,211.47 463.96,213.31 465.6,215.29 467.24,217.62 468.87,220.01 470.51,222.15 472.15,223.97 473.78,225.87 475.42,227.65 477.05,229.07 478.69,229.89 480.33,229.82 481.96,228.63 483.6,226.82 485.24,224.67 486.87,221.5 488.51,217.88 490.15,214.52 491.78,210.96 493.42,207.5 495.05,205.23 496.69,204.39 498.33,203.73 499.96,203.21 501.6,202.84 503.24,202.64 504.87,202.62 506.51,202.81 508.15,203.19 509.78,203.7 511.42,204.3 513.05,204.94 514.69,205.69 516.33,206.66 517.96,207.84 519.6,209.22 521.24,210.91 522.87,213.09 524.51,215.66 526.15,218.67 527.78,222.66 529.42,226.99 531.05,230.82 532.69,234.13 534.33,237.24 535.96,240.11 537.6,242.7" fill="none" stroke="#78c4b8" stroke-width="0.8"/><polyline points="375.6,243.2 377.24,242.89 378.87,241.92 380.51,239.97 382.15,238.05" fill="none" stroke="#ff0808" stroke-width="1.65" stroke-linejoin="round" stroke-linecap="round"/><polyline points="385.42,233.99 387.05,232.01 388.69,230.1 390.33,228.34 391.96,226.72 393.6,225.21 395.24,223.77 396.87,222.45 398.51,221.33 400.15,220.36 401.78,219.45 403.42,218.58 405.05,217.77 406.69,216.99 408.33,216.24 409.96,215.52 411.6,214.8 413.24,214.08 414.87,213.35 416.51,212.61 418.15,211.89 419.78,211.21 421.42,210.58 423.05,210.01 424.69,209.46 426.33,208.95 427.96,208.46 429.6,208.01 431.24,207.56 432.87,207.13 434.51,206.74 436.15,206.4 437.78,206.11 439.42,205.83 441.05,205.58 442.69,205.37 444.33,205.22 445.96,205.12 447.6,205.04 449.24,205 450.87,205.12 452.51,205.44 454.15,205.84 455.78,206.43 457.42,207.26 459.05,208.33 460.69,209.77 462.33,211.47 463.96,213.31 465.6,215.29" fill="none" stroke="#ff0808" stroke-width="1.65" stroke-linejoin="round" stroke-linecap="round"/><polyline points="470.51,222.15 472.15,223.97 473.78,225.87 475.42,227.65 477.05,229.07 478.69,229.89 480.33,229.82 481.96,228.63 483.6,226.82" fill="none" stroke="#ff0808" stroke-width="1.65" stroke-linejoin="round" stroke-linecap="round"/><polyline points="495.05,205.23 496.69,204.39 498.33,203.73 499.96,203.21 501.6,202.84 503.24,202.64 504.87,202.62 506.51,202.81 508.15,203.19 509.78,203.7 511.42,204.3 513.05,204.94 514.69,205.69 516.33,206.66 517.96,207.84 519.6,209.22 521.24,210.91" fill="none" stroke="#ff0808" stroke-width="1.65" stroke-linejoin="round" stroke-linecap="round"/><circle cx="375.6" cy="243.2" r="1.0"/><circle cx="377.24" cy="242.89" r="1.0"/><circle cx="378.87" cy="241.92" r="1.0"/><circle cx="380.51" cy="239.97" r="1.0"/><circle cx="382.15" cy="238.05" r="1.0"/><circle cx="383.78" cy="236.02" r="1.0"/><circle cx="385.42" cy="233.99" r="1.0"/><circle cx="387.05" cy="232.01" r="1.0"/><circle cx="388.69" cy="230.1" r="1.0"/><circle cx="390.33" cy="228.34" r="1.0"/><circle cx="391.96" cy="226.72" r="1.0"/><circle cx="393.6" cy="225.21" r="1.0"/><circle cx="395.24" cy="223.77" r="1.0"/><circle cx="396.87" cy="222.45" r="1.0"/><circle cx="398.51" cy="221.33" r="1.0"/><circle cx="400.15" cy="220.36" r="1.0"/><circle cx="401.78" cy="219.45" r="1.0"/><circle cx="403.42" cy="218.58" r="1.0"/><circle cx="405.05" cy="217.77" r="1.0"/><circle cx="406.69" cy="216.99" r="1.0"/><circle cx="408.33" cy="216.24" r="1.0"/><circle cx="409.96" cy="215.52" r="1.0"/><circle cx="411.6" cy="214.8" r="1.0"/><circle cx="413.24" cy="214.08" r="1.0"/><circle cx="414.87" cy="213.35" r="1.0"/><circle cx="416.51" cy="212.61" r="1.0"/><circle cx="418.15" cy="211.89" r="1.0"/><circle cx="419.78" cy="211.21" r="1.0"/><circle cx="421.42" cy="210.58" r="1.0"/><circle cx="423.05" cy="210.01" r="1.0"/><circle cx="424.69" cy="209.46" r="1.0"/><circle cx="426.33" cy="208.95" r="1.0"/><circle cx="427.96" cy="208.46" r="1.0"/><circle cx="429.6" cy="208.01" r="1.0"/><circle cx="431.24" cy="207.56" r="1.0"/><circle cx="432.87" cy="207.13" r="1.0"/><circle cx="434.51" cy="206.74" r="1.0"/><circle cx="436.15" cy="206.4" r="1.0"/><circle cx="437.78" cy="206.11" r="1.0"/><circle cx="439.42" cy="205.83" r="1.0"/><circle cx="441.05" cy="205.58" r="1.0"/><circle cx="442.69" cy="205.37" r="1.0"/><circle cx="444.33" cy="205.22" r="1.0"/><circle cx="445.96" cy="205.12" r="1.0"/><circle cx="447.6" cy="205.04" r="1.0"/><circle cx="449.24" cy="205" r="1.0"/><circle cx="450.87" cy="205.12" r="1.0"/><circle cx="452.51" cy="205.44" r="1.0"/><circle cx="454.15" cy="205.84" r="1.0"/><circle cx="455.78" cy="206.43" r="1.0"/><circle cx="457.42" cy="207.26" r="1.0"/><circle cx="459.05" cy="208.33" r="1.0"/><circle cx="460.69" cy="209.77" r="1.0"/><circle cx="462.33" cy="211.47" r="1.0"/><circle cx="463.96" cy="213.31" r="1.0"/><circle cx="465.6" cy="215.29" r="1.0"/><circle cx="467.24" cy="217.62" r="1.0"/><circle cx="468.87" cy="220.01" r="1.0"/><circle cx="470.51" cy="222.15" r="1.0"/><circle cx="472.15" cy="223.97" r="1.0"/><circle cx="473.78" cy="225.87" r="1.0"/><circle cx="475.42" cy="227.65" r="1.0"/><circle cx="477.05" cy="229.07" r="1.0"/><circle cx="478.69" cy="229.89" r="1.0"/><circle cx="480.33" cy="229.82" r="1.0"/><circle cx="481.96" cy="228.63" r="1.0"/><circle cx="483.6" cy="226.82" r="1.0"/><circle cx="485.24" cy="224.67" r="1.0"/><circle cx="486.87" cy="221.5" r="1.0"/><circle cx="488.51" cy="217.88" r="1.0"/><circle cx="490.15" cy="214.52" r="1.0"/><circle cx="491.78" cy="210.96" r="1.0"/><circle cx="493.42" cy="207.5" r="1.0"/><circle cx="495.05" cy="205.23" r="1.0"/><circle cx="496.69" cy="204.39" r="1.0"/><circle cx="498.33" cy="203.73" r="1.0"/><circle cx="499.96" cy="203.21" r="1.0"/><circle cx="501.6" cy="202.84" r="1.0"/><circle cx="503.24" cy="202.64" r="1.0"/><circle cx="504.87" cy="202.62" r="1.0"/><circle cx="506.51" cy="202.81" r="1.0"/><circle cx="508.15" cy="203.19" r="1.0"/><circle cx="509.78" cy="203.7" r="1.0"/><circle cx="511.42" cy="204.3" r="1.0"/><circle cx="513.05" cy="204.94" r="1.0"/><circle cx="514.69" cy="205.69" r="1.0"/><circle cx="516.33" cy="206.66" r="1.0"/><circle cx="517.96" cy="207.84" r="1.0"/><circle cx="519.6" cy="209.22" r="1.0"/><circle cx="521.24" cy="210.91" r="1.0"/><circle cx="522.87" cy="213.09" r="1.0"/><circle cx="524.51" cy="215.66" r="1.0"/><circle cx="526.15" cy="218.67" r="1.0"/><circle cx="527.78" cy="222.66" r="1.0"/><circle cx="529.42" cy="226.99" r="1.0"/><circle cx="531.05" cy="230.82" r="1.0"/><circle cx="532.69" cy="234.13" r="1.0"/><circle cx="534.33" cy="237.24" r="1.0"/><circle cx="535.96" cy="240.11" r="1.0"/><circle cx="537.6" cy="242.7" r="1.0"/></g>
<text x="427.4" y="284.4" style="font-family:'Liberation Serif',serif;font-size:15.4px;fill:#000" text-anchor="middle">(<tspan font-weight="bold">b</tspan>)</text>
</svg>
</body></html>
